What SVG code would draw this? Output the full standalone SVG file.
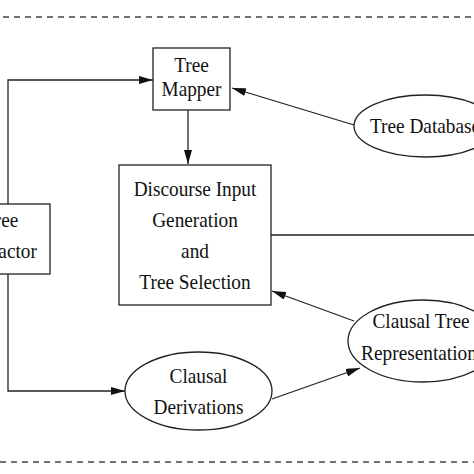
<svg xmlns="http://www.w3.org/2000/svg" width="474" height="474" viewBox="0 0 474 474">
<defs>
<style>
.n{fill:#fff;stroke:#222;stroke-width:1.3}
.c{fill:none;stroke:#222;stroke-width:1.3}
.d{fill:none;stroke:#444;stroke-width:1.3;stroke-dasharray:6 5}
text{font-family:"Liberation Serif","Times New Roman",serif;font-size:21px;fill:#111;text-anchor:middle}
</style>
<marker id="ah" viewBox="0 0 14 8" refX="14" refY="4" markerWidth="14" markerHeight="8" markerUnits="userSpaceOnUse" orient="auto">
<path d="M0,0 L14,4 L0,8 Z" fill="#111"/>
</marker>
</defs>
<rect width="474" height="474" fill="#fff"/>
<line class="d" x1="3" y1="17" x2="474" y2="17"/>
<line class="d" x1="0" y1="462" x2="474" y2="462"/>
<g id="connectors">
<path class="c" d="M8,204 V80 H153" marker-end="url(#ah)"/>
<path class="c" d="M8,274 V391 H125" marker-end="url(#ah)"/>
<path class="c" d="M354,125 L232,88" marker-end="url(#ah)"/>
<path class="c" d="M188,110 V164" marker-end="url(#ah)"/>
<path class="c" d="M271,235 H474"/>
<path class="c" d="M354,321 L272,291" marker-end="url(#ah)"/>
<path class="c" d="M272,399 L360,368" marker-end="url(#ah)"/>
</g>
<g id="tree-mapper">
<rect class="n" x="153" y="48" width="77" height="62"/>
<text transform="translate(191.5,72) scale(0.92,1)">Tree</text>
<text transform="translate(191.5,96) scale(0.92,1)">Mapper</text>
</g>
<g id="tree-database">
<ellipse class="n" cx="425" cy="126" rx="71" ry="31"/>
<text transform="translate(425,133) scale(0.92,1)">Tree Database</text>
</g>
<g id="discourse">
<rect class="n" x="119" y="165" width="152" height="140"/>
<text transform="translate(195,196) scale(0.92,1)">Discourse Input</text>
<text transform="translate(195,227) scale(0.92,1)">Generation</text>
<text transform="translate(195,258) scale(0.92,1)">and</text>
<text transform="translate(195,289) scale(0.92,1)">Tree Selection</text>
</g>
<g id="tree-extractor">
<rect class="n" x="-48" y="204" width="98" height="70"/>
<text transform="translate(1,227) scale(0.92,1)">Tree</text>
<text transform="translate(1,258) scale(0.92,1)">Extractor</text>
</g>
<g id="clausal-tree">
<ellipse class="n" cx="423" cy="341" rx="75" ry="41"/>
<text transform="translate(421,328) scale(0.92,1)">Clausal Tree</text>
<text transform="translate(419,360) scale(0.92,1)">Representation</text>
</g>
<g id="clausal-derivations">
<ellipse class="n" cx="198.5" cy="391" rx="73.5" ry="39"/>
<text transform="translate(198.5,383) scale(0.92,1)">Clausal</text>
<text transform="translate(198.5,414) scale(0.92,1)">Derivations</text>
</g>
</svg>
